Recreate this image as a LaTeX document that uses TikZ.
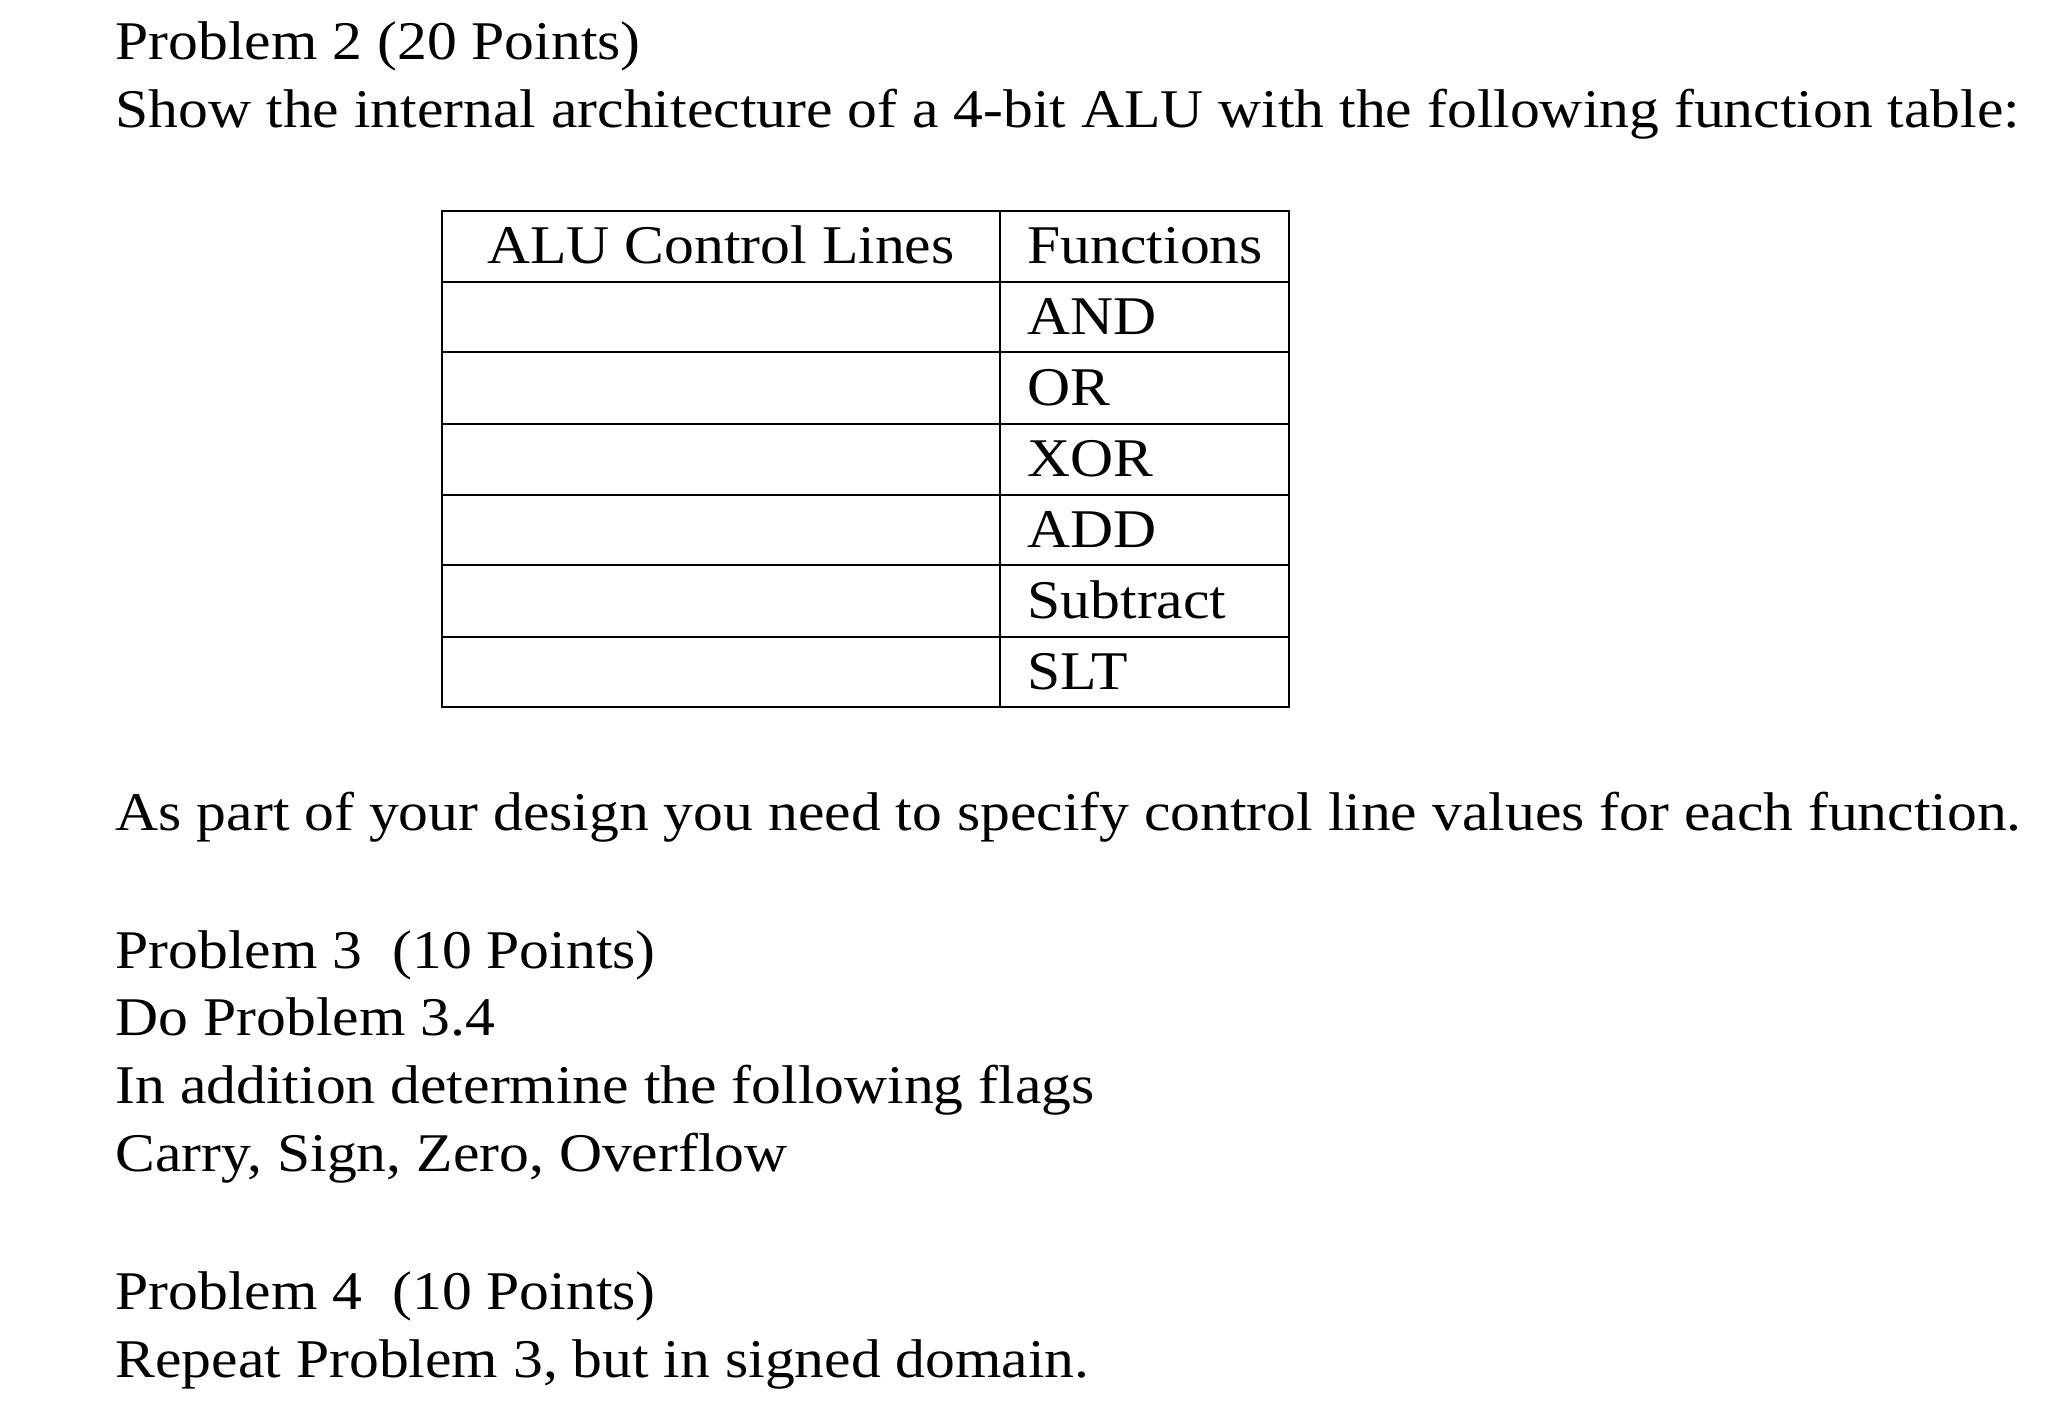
\documentclass[tikz,border=0pt]{standalone}
\usepackage{fontspec}
\setmainfont{Liberation Serif}[FakeStretch=1.094]
\begin{document}
\begin{tikzpicture}[x=0.01cm,y=-0.01cm,
  txt/.style={anchor=base west,inner sep=0pt,font=\fontsize{15.5}{18}\selectfont},
  tline/.style={line width=0.8pt}]
\useasboundingbox (0,0) rectangle (2046,1427);
\node[txt] (p2) at (115,59) {Problem 2 (20 Points)};
\node[txt] (l2) at (115,127) {Show the internal architecture of a 4-bit ALU with the following function table:};
% table
\draw[tline] (442,211) rectangle (1289,707);
\draw[tline] (1000,211) -- (1000,707);
\foreach \y in {282,352,424,495,565,637} \draw[tline] (442,\y) -- (1289,\y);
\node[txt,anchor=base] (h1) at (721,263) {ALU Control Lines};
\node[txt] (h2) at (1027,263) {Functions};
\node[txt] (f1) at (1027,334) {AND};
\node[txt] (f2) at (1027,405) {OR};
\node[txt] (f3) at (1027,476) {XOR};
\node[txt] (f4) at (1027,547) {ADD};
\node[txt] (f5) at (1027,618) {Subtract};
\node[txt] (f6) at (1027,689) {SLT};
\node[txt] (a) at (115,830) {As part of your design you need to specify control line values for each function.};
\node[txt] (p3) at (115,968) {Problem 3~~(10 Points)};
\node[txt] (d) at (115,1035) {Do Problem 3.4};
\node[txt] (i) at (115,1103) {In addition determine the following flags};
\node[txt] (c) at (115,1171) {Carry, Sign, Zero, Overflow};
\node[txt] (p4) at (115,1309) {Problem 4~~(10 Points)};
\node[txt] (r) at (115,1377) {Repeat Problem 3, but in signed domain.};
\end{tikzpicture}
\end{document}
